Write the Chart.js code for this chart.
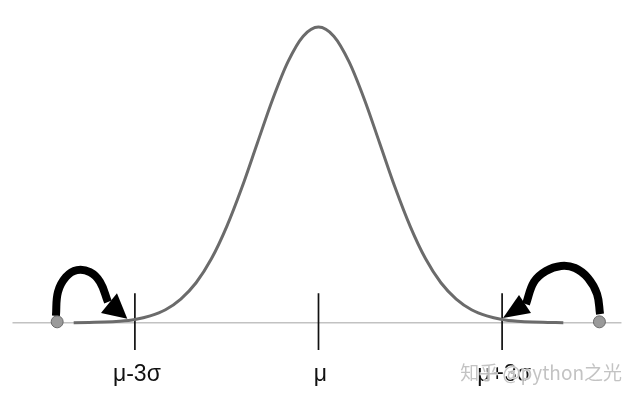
<!DOCTYPE html>
<html>
<head>
<meta charset="utf-8">
<script src="https://cdn.jsdelivr.net/npm/chart.js@4"></script>
<style>
  body { margin: 0; background: #fff; }
  canvas { display: block; }
</style>
</head>
<body>
<canvas id="grafico" width="640" height="400"></canvas>
<script>
// Curva normal (x em unidades de sigma, y normalizado pelo pico)
const curvaX = [-4, -3.75, -3.5, -3.25, -3, -2.75, -2.5, -2.25, -2, -1.75, -1.5, -1.25, -1, -0.75, -0.5, -0.25,
    0, 0.25, 0.5, 0.75, 1, 1.25, 1.5, 1.75, 2, 2.25, 2.5, 2.75, 3, 3.25, 3.5, 3.75, 4];
const curvaY = [0.000, 0.001, 0.002, 0.005, 0.011, 0.023, 0.044, 0.080, 0.135, 0.216, 0.325, 0.458, 0.607, 0.755, 0.882, 0.969,
    1.000, 0.969, 0.882, 0.755, 0.607, 0.458, 0.325, 0.216, 0.135, 0.080, 0.044, 0.023, 0.011, 0.005, 0.002, 0.001, 0.000];

// Eixo base e marcas
const baseX = [-5.0, 4.95];
const marcasX = [-3, 0, 3];
const marcasLabels = ['μ-3σ', 'μ', 'μ+3σ'];
const marcaTopo = 0.100;
const marcaBase = -0.092;

// Pontos (outliers)
const pontosX = [-4.27, 4.59];
const pontosY = [0.003, 0.003];

// Setas curvas
const setaEsqX = [-4.29, -4.257, -4.126, -3.946, -3.734, -3.57, -3.44];
const setaEsqY = [0.023, 0.104, 0.155, 0.178, 0.171, 0.138, 0.07];
const setaDirX = [4.60, 4.551, 4.404, 4.191, 3.963, 3.717, 3.521, 3.39];
const setaDirY = [0.029, 0.097, 0.151, 0.185, 0.192, 0.175, 0.138, 0.063];
// pontas das setas: [ponta, canto1, canto2]
const pontaEsqX = [-3.124, -3.554, -3.293];
const pontaEsqY = [0.013, 0.033, 0.100];
const pontaDirX = [3.015, 3.276, 3.472];
const pontaDirY = [0.016, 0.094, 0.033];

const pares = (xs, ys) => xs.map((x, i) => ({ x: x, y: ys[i] }));

const marcasDatasets = marcasX.map(x => ({
    data: [{ x: x, y: marcaTopo }, { x: x, y: marcaBase }],
    showLine: true,
    borderColor: '#111',
    borderWidth: 1.7,
    pointRadius: 0,
    order: 3
}));

const pluginDesenhos = {
    id: 'desenhos',
    afterDatasetsDraw(chart) {
        const ctx = chart.ctx;
        const sx = chart.scales.x;
        const sy = chart.scales.y;

        // pontas das setas
        ctx.save();
        ctx.fillStyle = '#000';
        [[pontaEsqX, pontaEsqY], [pontaDirX, pontaDirY]].forEach(([xs, ys]) => {
            ctx.beginPath();
            xs.forEach((x, i) => {
                const px = sx.getPixelForValue(x);
                const py = sy.getPixelForValue(ys[i]);
                if (i === 0) ctx.moveTo(px, py); else ctx.lineTo(px, py);
            });
            ctx.closePath();
            ctx.fill();
        });
        ctx.restore();

        // rótulos das marcas
        ctx.save();
        ctx.fillStyle = '#111';
        ctx.font = '23px "Liberation Sans", Arial, sans-serif';
        ctx.textAlign = 'center';
        ctx.textBaseline = 'middle';
        marcasX.forEach((x, i) => {
            ctx.fillText(marcasLabels[i], sx.getPixelForValue(x) + 2, 375);
        });
        ctx.restore();

        // marca d'água
        ctx.save();
        ctx.font = '19px "Noto Sans CJK SC", "Liberation Sans", sans-serif';
        ctx.textAlign = 'right';
        ctx.textBaseline = 'middle';
        ctx.lineWidth = 1.5;
        ctx.strokeStyle = 'rgba(255,255,255,0.85)';
        ctx.strokeText('知乎 @python之光', 622, 373);
        ctx.fillStyle = 'rgba(175,175,175,0.75)';
        ctx.fillText('知乎 @python之光', 622, 373);
        ctx.restore();
    }
};

new Chart(document.getElementById('grafico'), {
    type: 'scatter',
    data: {
        datasets: [
            {
                data: pares(pontosX, pontosY),
                backgroundColor: '#9a9a9a',
                borderColor: '#6a6a6a',
                borderWidth: 1,
                pointRadius: 6,
                showLine: false,
                order: 0
            },
            {
                data: pares(setaEsqX, setaEsqY),
                showLine: true,
                borderColor: '#000',
                borderWidth: 8,
                tension: 0.4,
                pointRadius: 0,
                order: 1
            },
            {
                data: pares(setaDirX, setaDirY),
                showLine: true,
                borderColor: '#000',
                borderWidth: 8,
                tension: 0.4,
                pointRadius: 0,
                order: 1
            },
            {
                data: pares(curvaX, curvaY),
                showLine: true,
                borderColor: '#6b6b6b',
                borderWidth: 3,
                cubicInterpolationMode: 'monotone',
                pointRadius: 0,
                order: 2
            },
            ...marcasDatasets,
            {
                data: pares(baseX, [0, 0]),
                showLine: true,
                borderColor: '#c2c2c2',
                borderWidth: 1.5,
                pointRadius: 0,
                order: 4
            }
        ]
    },
    options: {
        responsive: false,
        animation: false,
        layout: { padding: 0, autoPadding: false },
        plugins: {
            legend: { display: false },
            tooltip: { enabled: false }
        },
        scales: {
            x: { type: 'linear', display: false, min: -5.204, max: 5.253 },
            y: { type: 'linear', display: false, min: -0.2614, max: 1.0913 }
        }
    },
    plugins: [pluginDesenhos]
});
</script>
</body>
</html>
